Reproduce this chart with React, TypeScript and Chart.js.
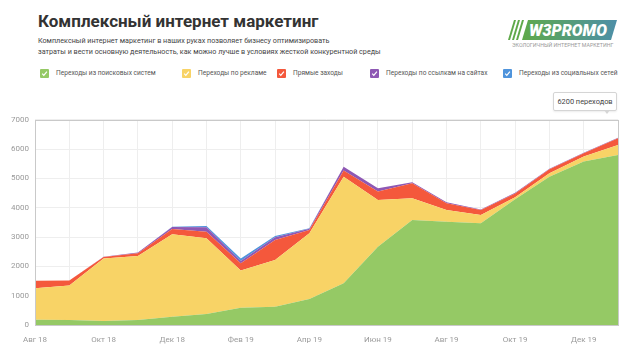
import React, { useEffect, useRef } from "react";
import { Chart, registerables } from "chart.js";

Chart.register(...registerables);

const months = [
  "Авг 18", "Сен 18", "Окт 18", "Ноя 18", "Дек 18", "Янв 19", "Фев 19", "Мар 19", "Апр 19",
  "Май 19", "Июн 19", "Июл 19", "Авг 19", "Сен 19", "Окт 19", "Ноя 19", "Дек 19", "Янв 20",
];
const searchTraffic = [180, 170, 135, 170, 285, 375, 590, 625, 885, 1420, 2670, 3585, 3525, 3470, 4290, 5060, 5575, 5800];
const adsTraffic = [1070, 1180, 2135, 2185, 2810, 2585, 1265, 1595, 2245, 3640, 1595, 735, 400, 285, 65, 115, 170, 340];
const directTraffic = [260, 170, 50, 95, 180, 225, 250, 680, 110, 210, 285, 515, 225, 165, 135, 135, 115, 230];
const referralTraffic = [0, 0, 10, 20, 70, 150, 80, 90, 40, 130, 115, 35, 35, 20, 20, 20, 20, 20];
const socialTraffic = [0, 0, 0, 0, 10, 45, 80, 50, 20, 0, 0, 0, 0, 0, 0, 0, 0, 0];

const seriesNames = [
  "Переходы из поисковых систем",
  "Переходы по рекламе",
  "Прямые заходы",
  "Переходы по ссылкам на сайтах",
  "Переходы из социальных сетей",
];
const seriesColors = ["#95c965", "#f8d366", "#f4583c", "#8e58b4", "#4f94dc"];
const legendX = [40, 182, 277, 370, 503];

const FONT = "Roboto, 'Noto Sans', sans-serif";

const borderPlugin = {
  id: "plotBorder",
  afterDraw(chart: any) {
    const { ctx, chartArea } = chart;
    ctx.save();
    ctx.strokeStyle = "#c9c9c9";
    ctx.lineWidth = 1;
    ctx.strokeRect(
      Math.round(chartArea.left) + 0.5,
      Math.round(chartArea.top) + 0.5,
      Math.round(chartArea.right - chartArea.left),
      Math.round(chartArea.bottom - chartArea.top)
    );
    ctx.restore();
  },
};

function TrafficChart() {
  const ref = useRef<HTMLCanvasElement | null>(null);
  useEffect(() => {
    if (!ref.current) return;
    const all = [searchTraffic, adsTraffic, directTraffic, referralTraffic, socialTraffic];
    const chart = new Chart(ref.current, {
      type: "line",
      data: {
        labels: months,
        datasets: all.map((d, i) => ({
          label: seriesNames[i],
          data: d,
          backgroundColor: seriesColors[i],
          borderColor: seriesColors[i],
          borderWidth: 0,
          pointRadius: 0,
          tension: 0,
          fill: i === 0 ? "origin" : "-1",
        })),
      },
      options: {
        animation: false,
        responsive: false,
        maintainAspectRatio: false,
        layout: { padding: { top: 0, right: 22, left: 0, bottom: 0 } },
        plugins: { legend: { display: false }, tooltip: { enabled: false } },
        scales: {
          x: {
            grid: { color: "#eeeeee", drawTicks: false },
            border: { display: false },
            ticks: {
              autoSkip: false,
              maxRotation: 0,
              padding: 10,
              color: "#9a9a9a",
              font: { family: FONT, size: 8 },
              callback: (_v: any, i: number) => (i % 2 === 0 ? months[i] : ""),
            },
            afterFit: (s: any) => {
              s.height = 25;
            },
          },
          y: {
            stacked: true,
            min: 0,
            max: 7000,
            grid: { color: "#eeeeee", drawTicks: false },
            border: { display: false },
            ticks: {
              stepSize: 1000,
              padding: 6,
              color: "#9a9a9a",
              font: { family: FONT, size: 8 },
              callback: (v: any) => String(v),
            },
            afterFit: (s: any) => {
              s.width = 35;
            },
          },
        },
      },
      plugins: [borderPlugin],
    });
    return () => chart.destroy();
  }, []);
  return <canvas ref={ref} width={640} height={241} style={{ display: "block", width: 640, height: 241 }} />;
}

function Check({ color }: { color: string }) {
  return (
    <span
      style={{
        display: "inline-block",
        width: 9,
        height: 9,
        background: color,
        borderRadius: 1,
        position: "relative",
        marginRight: 7,
        verticalAlign: "middle",
      }}
    >
      <svg width="9" height="9" viewBox="0 0 9 9" style={{ position: "absolute", left: 0, top: 0 }}>
        <path d="M2.2 4.6 L3.8 6.3 L6.9 2.6" stroke="#fff" strokeWidth="1.2" fill="none" />
      </svg>
    </span>
  );
}

export default function App() {
  return (
    <div
      style={{
        position: "fixed",
        left: 0,
        top: 0,
        width: 640,
        height: 360,
        background: "#fff",
        fontFamily: FONT,
        overflow: "hidden",
      }}
    >
      <div style={{ position: "absolute", left: 38, top: 11, fontSize: 17, fontWeight: 700, color: "#333", whiteSpace: "nowrap" }}>
        Комплексный интернет маркетинг
      </div>
      <div style={{ position: "absolute", left: 38, top: 35, fontSize: 7.2, lineHeight: "11px", color: "#444", whiteSpace: "nowrap" }}>
        Комплексный интернет маркетинг в наших руках позволяет бизнесу оптимизировать
        <br />
        затраты и вести основную деятельность, как можно лучше в условиях жесткой конкурентной среды
      </div>
      {/* logo */}
      <div style={{ position: "absolute", left: 506, top: 19, width: 112, height: 22 }}>
        <svg width="112" height="22" viewBox="0 0 112 22">
          <defs>
            <linearGradient id="lg" x1="0" x2="1" y1="0" y2="0">
              <stop offset="0" stopColor="#5fa94a" />
              <stop offset="1" stopColor="#4d8fa8" />
            </linearGradient>
          </defs>
          <path d="M2 21 L8 1 L10 1 L4 21 Z" fill="#5fa94a" />
          <path d="M6 21 L12 1 L14 1 L8 21 Z" fill="#5fa94a" />
          <path d="M10 21 L16 1 L18 1 L12 21 Z" fill="#5fa94a" />
          <path d="M16 21 L22 1 L111 1 L105 21 Z" fill="url(#lg)" />
          <text x="62" y="17" textAnchor="middle" fill="#fff" fontSize="16" fontWeight="900" fontStyle="italic" fontFamily={FONT}>
            W3PROMO
          </text>
        </svg>
      </div>
      <div style={{ position: "absolute", left: 512, top: 42, fontSize: 5.3, color: "#999", whiteSpace: "nowrap" }}>
        ЭКОЛОГИЧНЫЙ ИНТЕРНЕТ МАРКЕТИНГ
      </div>
      {/* legend */}
      {seriesNames.map((n, i) => (
        <div
          key={n}
          style={{ position: "absolute", left: legendX[i], top: 67, fontSize: 6.6, color: "#555", whiteSpace: "nowrap", lineHeight: "12px" }}
        >
          <Check color={seriesColors[i]} />
          <span style={{ verticalAlign: "middle" }}>{n}</span>
        </div>
      ))}
      {/* badge */}
      <div
        style={{
          position: "absolute",
          left: 553,
          top: 92,
          width: 62,
          height: 17,
          border: "1px solid #d5d5d5",
          borderRadius: 2,
          background: "#fff",
          fontSize: 7.4,
          color: "#444",
          lineHeight: "17px",
          textAlign: "center",
          boxShadow: "0 1px 2px rgba(0,0,0,0.08)",
        }}
      >
        6200 переходов
      </div>
      <div style={{ position: "absolute", left: 604, top: 110, width: 0, height: 0, borderLeft: "3px solid transparent", borderRight: "3px solid transparent", borderTop: "4px solid #d5d5d5" }} />
      <div style={{ position: "absolute", left: 0, top: 109, width: 640, height: 241 }}>
        <TrafficChart />
      </div>
    </div>
  );
}
